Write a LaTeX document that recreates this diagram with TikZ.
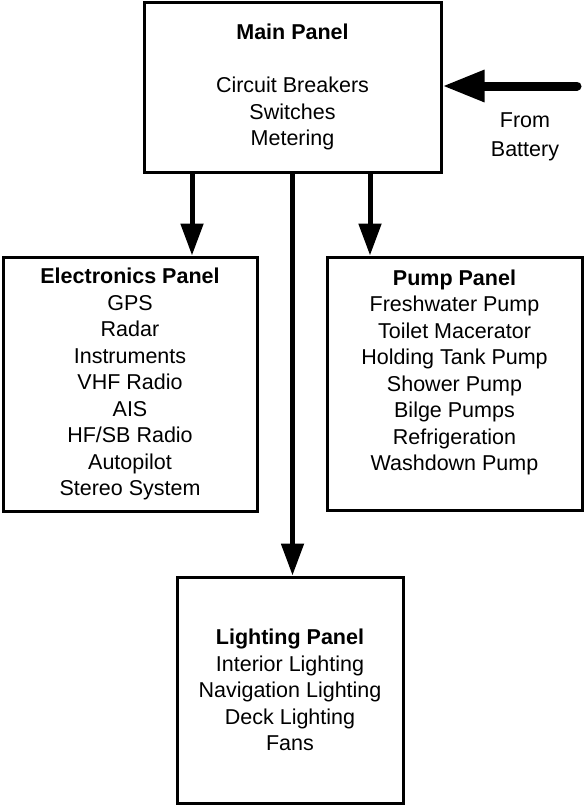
\documentclass[tikz,border=0pt]{standalone}
\usepackage{fontspec}
\setmainfont{Liberation Sans}
\usetikzlibrary{arrows.meta}
\begin{document}
\begin{tikzpicture}[x=1pt, y=-1pt,
  panel/.style={draw, line width=3pt, align=center, inner sep=0pt,
    font=\fontsize{21.5}{26.5}\selectfont},
  feed/.style={line width=5pt, -{Triangle[length=32pt, width=22pt]}}]
  \useasboundingbox (0,0) rectangle (584,806);
  % panels
  \node[panel, minimum width=297pt, minimum height=170pt] (main) at (292.5,87)
    {\textbf{Main Panel}\\ \\ Circuit Breakers\\ Switches\\ Metering};
  \node[panel, minimum width=254pt, minimum height=254pt] (elec) at (130,384)
    {\textbf{Electronics Panel}\\ GPS\\ Radar\\ Instruments\\ VHF Radio\\ AIS\\
     HF/SB Radio\\ Autopilot\\ Stereo System};
  \node[panel, minimum width=255pt, minimum height=253pt] (pump) at (454.5,383.5)
    {\textbf{Pump Panel}\\ Freshwater Pump\\ Toilet Macerator\\ Holding Tank Pump\\
     Shower Pump\\ Bilge Pumps\\ Refrigeration\\ Washdown Pump\\ \mbox{}};
  \node[panel, minimum width=226pt, minimum height=226pt] (light) at (290,690)
    {\textbf{Lighting Panel}\\ Interior Lighting\\ Navigation Lighting\\
     Deck Lighting\\ Fans};
  % feeds
  \draw[feed] ([xshift=-100.5pt]main.south) -- ([xshift=-100.5pt]main.south |- elec.north);
  \draw[feed] (main.south) -- (main.south |- light.north);
  \draw[feed] ([xshift=77.5pt]main.south) -- ([xshift=77.5pt]main.south |- pump.north);
  % battery
  \coordinate (battery) at (577,86);
  \draw[line width=9pt, line cap=round, -{Triangle[length=42pt, width=30pt]}]
    (battery) -- (main.east |- battery);
  \node[align=center, font=\fontsize{21.5}{29}\selectfont] (batlabel) at (525,137)
    {From\\ Battery};
\end{tikzpicture}
\end{document}
